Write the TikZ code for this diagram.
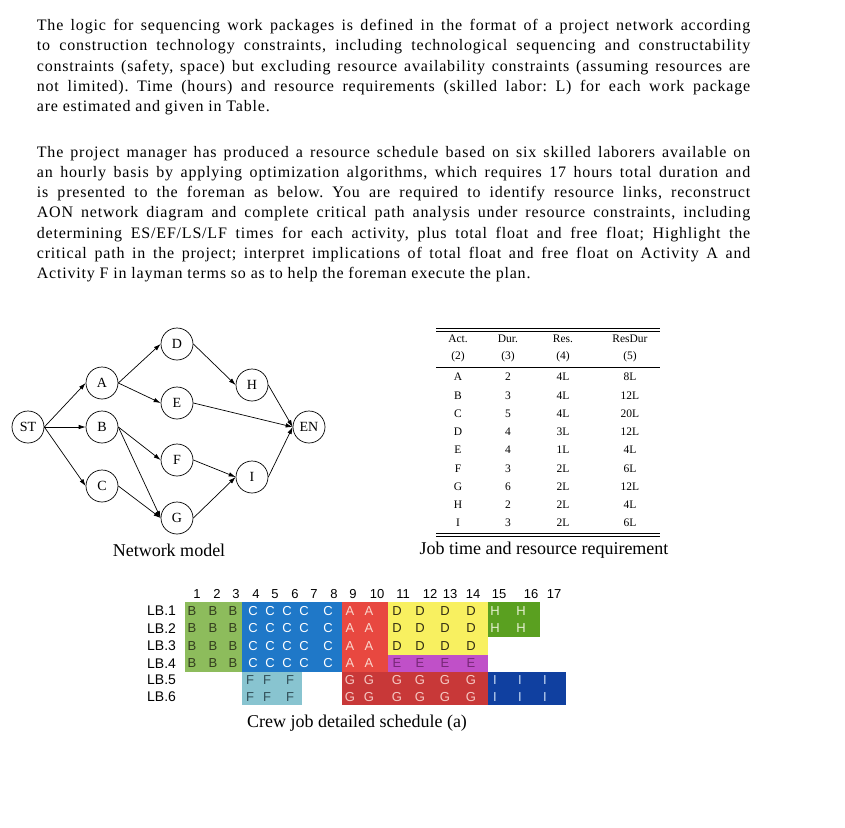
\documentclass[tikz,border=0pt]{standalone}
\usepackage{fontspec}
\setmainfont{Liberation Serif}
\newfontfamily\crewfont{Liberation Sans}
\usetikzlibrary{arrows.meta}
\definecolor{colA}{RGB}{232,72,64}
\definecolor{colB}{RGB}{141,188,92}
\definecolor{colC}{RGB}{31,120,200}
\definecolor{colD}{RGB}{248,240,96}
\definecolor{colE}{RGB}{192,80,200}
\definecolor{colF}{RGB}{136,196,208}
\definecolor{colG}{RGB}{200,56,56}
\definecolor{colH}{RGB}{90,160,32}
\definecolor{colI}{RGB}{16,64,160}
\definecolor{txtA}{RGB}{250,215,205}
\definecolor{txtB}{RGB}{50,60,30}
\definecolor{txtD}{RGB}{50,45,20}
\definecolor{txtE}{RGB}{120,40,120}
\definecolor{txtF}{RGB}{50,80,90}
\definecolor{txtG}{RGB}{245,200,195}
\definecolor{txtH}{RGB}{230,240,210}
\definecolor{txtI}{RGB}{200,220,245}
\frenchspacing
\begin{document}
\begin{tikzpicture}[x=1pt, y=-1pt, every node/.style={inner sep=0pt}]
  \tikzstyle{para}=[anchor=base west,text width=713.3pt,align=justify,font=\fontsize{16}{20.2}\selectfont\addfontfeature{LetterSpace=5}]
  \tikzstyle{act}=[draw,circle,minimum size=32pt,line width=0.7pt,font=\fontsize{14}{14}\selectfont]
  \tikzstyle{link}=[-{Latex[length=7pt,width=4.5pt]},line width=0.7pt]
  \tikzstyle{tab}=[font=\fontsize{11.5}{11.5}\selectfont]
  \tikzstyle{capt}=[anchor=base,font=\fontsize{18}{18}\selectfont]
  \tikzstyle{crew}=[font=\crewfont\fontsize{13}{13}\selectfont]
  \useasboundingbox (0,0) rectangle (845,827);
  \fill[white] (0,0) rectangle (845,827);

  \node[para] (intro) at (36.7,30.7) {The logic for sequencing work packages is defined in the format of a project network according\linebreak
    to construction technology constraints, including technological sequencing and constructability\linebreak
    constraints (safety, space) but excluding resource availability constraints (assuming resources are\linebreak
    not limited). Time (hours) and resource requirements (skilled labor: L) for each work package\linebreak
    are estimated and given in Table.};
  \node[para] (task) at (36.7,157.3) {The project manager has produced a resource schedule based on six skilled laborers available on\linebreak
    an hourly basis by applying optimization algorithms, which requires 17 hours total duration and\linebreak
    is presented to the foreman as below. You are required to identify resource links, reconstruct\linebreak
    AON network diagram and complete critical path analysis under resource constraints, including\linebreak
    determining ES/EF/LS/LF times for each activity, plus total float and free float; Highlight the\linebreak
    critical path in the project; interpret implications of total float and free float on Activity A and\linebreak
    Activity F in layman terms so as to help the foreman execute the plan.};

  % network model
  \node[act] (st) at (28,427) {ST};
  \node[act] (a) at (102,383) {A};
  \node[act] (b) at (102,427) {B};
  \node[act] (c) at (102,486) {C};
  \node[act] (d) at (177,344) {D};
  \node[act] (e) at (177,403) {E};
  \node[act] (f) at (177,460) {F};
  \node[act] (g) at (177,518) {G};
  \node[act] (h) at (252,385) {H};
  \node[act] (i) at (252,477) {I};
  \node[act] (en) at (309,427) {EN};
  \foreach \s/\t in {st/a,st/b,st/c,a/d,a/e,b/f,b/g,c/g,d/h,e/en,f/i,g/i,h/en,i/en}
    \draw[link] (\s.east) -- (\t.west);
  \node[capt] (netcap) at (169,556) {Network model};

  % job table
  \draw[line width=0.8pt] (436,328.5) -- (660,328.5) (436,331.5) -- (660,331.5);
  \draw[line width=0.8pt] (436,367) -- (660,367);
  \draw[line width=0.8pt] (436,533.5) -- (660,533.5) (436,536.5) -- (660,536.5);
  \node[tab] (hact) at (458,339) {Act.};
  \node[tab] (hdur) at (508,339) {Dur.};
  \node[tab] (hres) at (563,339) {Res.};
  \node[tab] (hrd) at (630,339) {ResDur};
  \node[tab] (nact) at (458,357) {(2)};
  \node[tab] (ndur) at (508,357) {(3)};
  \node[tab] (nres) at (563,357) {(4)};
  \node[tab] (nrd) at (630,357) {(5)};
  \foreach \a/\d/\r/\q [count=\k] in {A/2/4L/8L,B/3/4L/12L,C/5/4L/20L,D/4/3L/12L,E/4/1L/4L,F/3/2L/6L,G/6/2L/12L,H/2/2L/4L,I/3/2L/6L} {
    \node[tab] (act\k) at (458,358.75+18.25*\k) {\a};
    \node[tab] (dur\k) at (508,358.75+18.25*\k) {\d};
    \node[tab] (res\k) at (563,358.75+18.25*\k) {\r};
    \node[tab] (rd\k) at (630,358.75+18.25*\k) {\q};
  }
  \node[capt] (tabcap) at (544,554) {Job time and resource requirement};

  % crew schedule
  \fill[colB] (185,602) rectangle (242,672);
  \fill[colC] (242,602) rectangle (342,672);
  \fill[colA] (342,602) rectangle (388,672);
  \fill[colD] (388,602) rectangle (488,655);
  \fill[colE] (388,655) rectangle (488,672);
  \fill[colH] (488,602) rectangle (540,637);
  \fill[colF] (242,672) rectangle (302,705);
  \fill[colG] (342,672) rectangle (488,705);
  \fill[colI] (488,672) rectangle (566,705);
  \foreach \n/\x in {1/197,2/217,3/236,4/256,5/275,6/295,7/314,8/334,9/353,10/377,11/403,12/430,13/450,14/473,15/499,16/531,17/554}
    \node[crew] (hr\n) at (\x,594) {\n};
  \foreach \y [count=\r] in {611,628.5,646,663.5,680,697}
    \node[crew,anchor=west,font=\crewfont\fontsize{14}{14}\selectfont] (lb\r) at (147,\y) {LB.\r};
  \foreach \y [count=\r] in {611,628.5,646,663.5} {
    \foreach \x [count=\c] in {192,213,233} \node[crew,text=txtB] (B\r\c) at (\x,\y) {B};
    \foreach \x [count=\c] in {253,270,287,304,328} \node[crew,text=white] (C\r\c) at (\x,\y) {C};
    \foreach \x [count=\c] in {350,369} \node[crew,text=txtA] (A\r\c) at (\x,\y) {A};
  }
  \foreach \y [count=\r] in {611,628.5,646}
    \foreach \x [count=\c] in {397,420,445,471} \node[crew,text=txtD] (D\r\c) at (\x,\y) {D};
  \foreach \x [count=\c] in {397,420,445,471} \node[crew,text=txtE] (E\c) at (\x,663.5) {E};
  \foreach \y [count=\r] in {611,628.5}
    \foreach \x [count=\c] in {495,521} \node[crew,text=txtH] (H\r\c) at (\x,\y) {H};
  \foreach \y [count=\r] in {680,697} {
    \foreach \x [count=\c] in {250,267,290} \node[crew,text=txtF] (F\r\c) at (\x,\y) {F};
    \foreach \x [count=\c] in {350,369,397,420,445,471} \node[crew,text=txtG] (G\r\c) at (\x,\y) {G};
    \foreach \x [count=\c] in {495,520,545} \node[crew,text=txtI] (I\r\c) at (\x,\y) {I};
  }
  \node[capt] (crewcap) at (357,727) {Crew job detailed schedule (a)};
\end{tikzpicture}
\end{document}
